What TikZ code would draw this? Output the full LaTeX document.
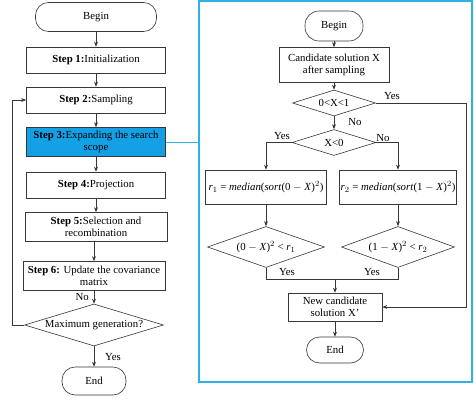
\documentclass[tikz,border=0pt]{standalone}
\usepackage{fontspec}
\setmainfont{Liberation Serif}
\usetikzlibrary{shapes.geometric,arrows.meta}
\definecolor{stepblue}{RGB}{20,160,228}
\definecolor{panelblue}{RGB}{45,178,230}
\definecolor{linegray}{RGB}{55,55,55}
\begin{document}
\begin{tikzpicture}[x=1pt,y=-1pt,
  txt/.style={font=\fontsize{10.8}{12.5}\selectfont, text=black},
  box/.style={txt, draw=linegray, line width=0.6pt, fill=white, align=center, inner sep=1pt},
  term/.style={box, rounded corners=13pt},
  dec/.style={txt, diamond, draw=linegray, line width=0.6pt, fill=white, align=center, inner sep=0pt},
  lbl/.style={txt, inner sep=1pt},
  conn/.style={draw=linegray, line width=0.7pt},
  arr/.style={conn, -{Stealth[length=5pt,width=4pt]}},
  frame/.style={draw=panelblue, line width=1.8pt}
]
\useasboundingbox (0,0) rectangle (474,418);

% right panel
\node[minimum width=272pt, minimum height=380pt, inner sep=0pt] (panel) at (335.5,191.5) {};
\draw[frame] (panel.north west) rectangle (panel.south east);

% left column
\node[term, minimum width=121pt, minimum height=29pt] (b1) at (96,17) {Begin};
\node[box, minimum width=139pt, minimum height=26pt] (s1) at (96,60) {\textbf{Step 1:}Initialization};
\node[box, minimum width=139pt, minimum height=26pt] (s2) at (96,100) {\textbf{Step 2:}Sampling};
\node[box, fill=stepblue, minimum width=139pt, minimum height=29pt] (s3) at (96,142) {\textbf{Step 3:}Expanding the search\\scope};
\node[box, minimum width=139pt, minimum height=26pt] (s4) at (96,185) {\textbf{Step 4:}Projection};
\node[box, minimum width=142pt, minimum height=29pt] (s5) at (96,227) {\textbf{Step 5:}Selection and\\recombination};
\node[box, minimum width=142pt, minimum height=29pt] (s6) at (94,276) {\textbf{Step 6:} Update the covariance\\matrix};
\node[dec, aspect=3.3, minimum width=139pt, minimum height=42pt] (dm) at (94,325) {Maximum generation?};
\node[term, minimum width=64pt, minimum height=28pt] (e1) at (94,381) {End};

\draw[arr] (b1) -- (s1);
\draw[arr] (s1) -- (s2);
\draw[arr] (s2) -- (s3);
\draw[arr] (s3) -- (s4);
\draw[arr] (s4) -- (s5);
\draw[arr] (s5.south -| s6.north) -- (s6.north);
\draw[arr] (s6) -- (dm);
\draw[arr] (dm) -- (e1);
\coordinate (lp) at (12,0);
\draw[arr] (dm.west) -- (dm.west -| lp) |- (s2.west);
\node[lbl, anchor=east] at (90,297) {No};
\node[lbl, anchor=west] at (104,357) {Yes};

\draw[panelblue, line width=1pt] (s3.east) -- (s3.east -| panel.west);

% right column
\node[term, minimum width=58pt, minimum height=30pt, rounded corners=14pt] (b2) at (334,26) {Begin};
\node[box, minimum width=110pt, minimum height=35pt] (cand) at (334,65) {Candidate solution X\\after sampling};
\node[dec, aspect=3.2, minimum width=83pt, minimum height=26pt] (d01) at (334,103) {0<X<1};
\node[dec, aspect=3.2, minimum width=84pt, minimum height=26pt] (dx0) at (334,142.5) {X<0};
\node[box, minimum width=121pt, minimum height=34pt] (r1) at (266,187) {\textit{r}$_1$ = \textit{median}(\textit{sort}(0 $-$ \textit{X})$^2$)};
\node[box, minimum width=115pt, minimum height=34pt] (r2) at (398,187) {\textit{r}$_2$ = \textit{median}(\textit{sort}(1 $-$ \textit{X})$^2$)};
\node[dec, aspect=2.85, minimum width=117pt, minimum height=41pt] (c1) at (266,247) {(0 $-$ \textit{X})$^2$ < \textit{r}$_1$};
\node[dec, aspect=2.75, minimum width=113pt, minimum height=41pt] (c2) at (398,247) {(1 $-$ \textit{X})$^2$ < \textit{r}$_2$};
\node[box, minimum width=94pt, minimum height=28pt] (nc) at (335,307) {New candidate\\solution X'};
\node[term, minimum width=57pt, minimum height=26pt] (e2) at (335,350) {End};

\draw[arr] (b2) -- (cand);
\draw[arr] (cand) -- (d01);
\draw[arr] (d01) -- (dx0);
\draw[arr] (dx0.west) -| (r1.north);
\draw[arr] (dx0.east) -| (r2.north);
\draw[arr] (r1) -- (c1);
\draw[arr] (r2) -- (c2);
\coordinate (m) at (335,279);
\draw[conn] (c1.south) |- (m);
\draw[conn] (c2.south) |- (m);
\draw[arr] (m) -- (nc.north -| m);
\draw[arr] (nc) -- (e2);
\coordinate (rc) at (466,0);
\draw[arr] (d01.east) -- (d01.east -| rc) |- (nc.east);

\node[lbl] at (392,96) {Yes};
\node[lbl] at (355,122) {No};
\node[lbl] at (282,136) {Yes};
\node[lbl] at (383,138) {No};
\node[lbl] at (287,272) {Yes};
\node[lbl] at (372,272) {Yes};
\end{tikzpicture}
\end{document}
